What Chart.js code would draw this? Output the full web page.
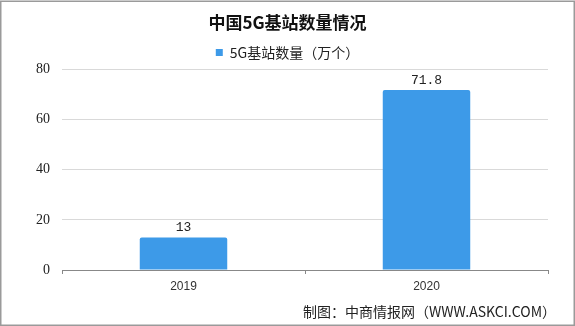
<!DOCTYPE html>
<html>
<head>
<meta charset="utf-8">
<script src="https://cdn.jsdelivr.net/npm/chart.js@4.4.1/dist/chart.umd.min.js"></script>
<style>
html,body{margin:0;padding:0;background:#fff;}
#wrap{width:575px;height:326px;position:relative;}
</style>
</head>
<body>
<div id="wrap"><canvas id="c" width="575" height="326"></canvas></div>
<script>
const categories = ['2019', '2020'];
const stations = [13, 71.8];
const yTicks = [0, 20, 40, 60, 80];
const titleText = '中国5G基站数量情况';
const seriesName = '5G基站数量（万个）';
const sourceText = '制图：中商情报网（WWW.ASKCI.COM）';

const CJK = '"Noto Sans CJK SC", "Noto Sans", sans-serif';

const extras = {
  id: 'extras',
  afterDatasetsDraw(chart) {
    const ctx = chart.ctx;
    const meta = chart.getDatasetMeta(0);
    ctx.save();
    ctx.fillStyle = '#222';
    ctx.font = '13px "Liberation Mono", monospace';
    ctx.textAlign = 'center';
    ctx.textBaseline = 'bottom';
    meta.data.forEach((bar, i) => {
      ctx.fillText(String(stations[i]), bar.x, bar.y - 3);
    });
    ctx.restore();
  },
  afterDraw(chart) {
    const ctx = chart.ctx;
    ctx.save();
    ctx.fillStyle = '#222';
    ctx.font = '14px ' + CJK;
    ctx.textAlign = 'right';
    ctx.textBaseline = 'middle';
    ctx.fillText(sourceText, 556, 312);
    ctx.strokeStyle = '#9a9a9a';
    ctx.lineWidth = 1.5;
    ctx.strokeRect(0.75, 1.25, 573.5, 324);
    ctx.restore();
  }
};

new Chart(document.getElementById('c'), {
  type: 'bar',
  data: {
    labels: categories,
    datasets: [{
      label: seriesName,
      data: stations,
      backgroundColor: '#3d9ae8',
      borderWidth: 0,
      borderRadius: 2,
      borderSkipped: 'bottom',
      categoryPercentage: 1,
      barPercentage: 0.36
    }]
  },
  options: {
    responsive: false,
    animation: false,
    devicePixelRatio: 1,
    layout: { padding: { left: 0, right: 0, top: 0, bottom: 0 } },
    plugins: {
      title: {
        display: true,
        text: titleText,
        color: '#111',
        font: { family: CJK, size: 17, weight: 'bold', lineHeight: 1.2 },
        padding: { top: 12, bottom: 0 }
      },
      legend: {
        display: true,
        position: 'top',
        labels: {
          color: '#222',
          font: { family: CJK, size: 14 },
          boxWidth: 7,
          boxHeight: 7,
          padding: 13
        }
      },
      tooltip: { enabled: false }
    },
    scales: {
      x: {
        grid: { display: true, drawOnChartArea: false, drawTicks: true, tickLength: 4, color: '#888', offset: true },
        border: { display: true, color: '#888' },
        ticks: { color: '#333', font: { family: '"Liberation Sans", sans-serif', size: 12 }, padding: 5 },
        afterFit(s) { s.height = 56; }
      },
      y: {
        min: 0,
        max: 80,
        afterBuildTicks(s) { s.ticks = yTicks.map(v => ({ value: v })); },
        grid: { color: '#d9d9d9', drawTicks: false },
        border: { display: false },
        ticks: { color: '#222', font: { family: '"Liberation Serif", serif', size: 14 }, padding: 12 },
        afterFit(s) { s.width = 62; }
      },
      yRight: {
        position: 'right',
        min: 0,
        max: 80,
        grid: { display: false, drawTicks: false },
        border: { display: false },
        ticks: { display: false },
        afterFit(s) { s.width = 27; }
      }
    }
  },
  plugins: [extras]
});
</script>
</body>
</html>
